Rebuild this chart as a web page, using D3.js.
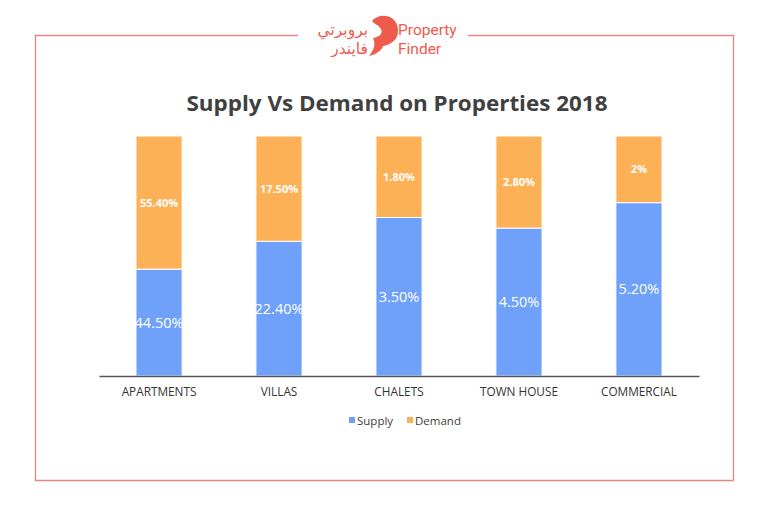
<!DOCTYPE html>
<html>
<head>
<meta charset="utf-8">
<script src="https://cdn.jsdelivr.net/npm/d3@7"></script>
<style>
  body { margin: 0; background: #fff; }
  svg { display: block; }
</style>
</head>
<body>
<div id="chart"></div>
<script>
var categories = ["APARTMENTS", "VILLAS", "CHALETS", "TOWN HOUSE", "COMMERCIAL"];
var supply = [44.5, 22.4, 3.5, 4.5, 5.2];
var demand = [55.4, 17.5, 1.8, 2.8, 2];
var supplyLabels = ["44.50%", "22.40%", "3.50%", "4.50%", "5.20%"];
var demandLabels = ["55.40%", "17.50%", "1.80%", "2.80%", "2%"];
var seriesNames = ["Supply", "Demand"];

var width = 768, height = 515;
var blue = "#6fa1fa", orange = "#fdb156", brand = "#ee5a4c";

var svg = d3.select("#chart").append("svg")
    .attr("width", width).attr("height", height);

// frame with logo gap
var frame = svg.append("g").attr("stroke", "#e8867c").attr("stroke-width", 1.3).attr("fill", "none");
frame.append("path").attr("d", "M298,35.5 H35.5 V480.5 H733.5 V35.5 H468");

// logo
var logo = svg.append("g");
logo.append("path")
    .attr("d", "M372,21 C378,13 396,13 398,29 C399,40 390,45 383,46 C382,50 377,54 369,56 C374,50 376,44 373,38 C380,37 383,33 381,29 C379,25 374,24 372,21 Z")
    .attr("fill", brand);
logo.append("text").attr("x", 398).attr("y", 35)
    .attr("font-family", "Roboto, sans-serif").attr("font-size", 15.5)
    .attr("fill", brand).text("Property");
logo.append("text").attr("x", 398).attr("y", 53.5)
    .attr("font-family", "Roboto, sans-serif").attr("font-size", 15.5)
    .attr("fill", brand).text("Finder");
logo.append("text").attr("x", 368).attr("y", 35).attr("text-anchor", "end")
    .attr("font-family", "DejaVu Sans, sans-serif").attr("font-size", 15.5)
    .attr("fill", brand).text("بروبرتي");
logo.append("text").attr("x", 368).attr("y", 53.5).attr("text-anchor", "end")
    .attr("font-family", "DejaVu Sans, sans-serif").attr("font-size", 15.5)
    .attr("fill", brand).text("فايندر");

// title
svg.append("text")
    .attr("x", 397).attr("y", 111)
    .attr("text-anchor", "middle")
    .attr("font-family", "Open Sans, sans-serif")
    .attr("font-weight", 700).attr("font-size", 22)
    .attr("fill", "#404040")
    .attr("textLength", 421).attr("lengthAdjust", "spacingAndGlyphs")
    .text("Supply Vs Demand on Properties 2018");

var x = d3.scaleBand().domain(categories).range([99, 699]).paddingInner(0.615).paddingOuter(0.308);
var y = d3.scaleLinear().domain([0, 1]).range([376, 136]);

var rows = categories.map(function(c, i) {
    var tot = supply[i] + demand[i];
    return { cat: c, s: supply[i] / tot, d: demand[i] / tot, sl: supplyLabels[i], dl: demandLabels[i] };
});

var g = svg.append("g");
var bar = g.selectAll("g.bar").data(rows).enter().append("g").attr("class", "bar");

bar.append("rect")
    .attr("x", function(d) { return x(d.cat); })
    .attr("width", x.bandwidth())
    .attr("y", function(d) { return y(d.s); })
    .attr("height", function(d) { return y(0) - y(d.s); })
    .attr("fill", blue)
    .attr("stroke", "#fff").attr("stroke-width", 1);

bar.append("rect")
    .attr("x", function(d) { return x(d.cat); })
    .attr("width", x.bandwidth())
    .attr("y", y(1))
    .attr("height", function(d) { return y(d.s) - y(1); })
    .attr("fill", orange)
    .attr("stroke", "#fff").attr("stroke-width", 1);

bar.append("text")
    .attr("x", function(d) { return x(d.cat) + x.bandwidth() / 2; })
    .attr("y", function(d) { return (y(d.s) + y(0)) / 2 + 5; })
    .attr("text-anchor", "middle")
    .attr("font-family", "Open Sans, sans-serif").attr("font-size", 14.5)
    .attr("fill", "#fff")
    .text(function(d) { return d.sl; });

bar.append("text")
    .attr("x", function(d) { return x(d.cat) + x.bandwidth() / 2; })
    .attr("y", function(d) { return (y(1) + y(d.s)) / 2 + 4; })
    .attr("text-anchor", "middle")
    .attr("font-family", "Open Sans, sans-serif").attr("font-weight", 700).attr("font-size", 11)
    .attr("fill", "#fff")
    .text(function(d) { return d.dl; });

// x axis
var xAxis = svg.append("g").attr("transform", "translate(0,376)")
    .call(d3.axisBottom(x).tickSize(0).tickPadding(12));
xAxis.select(".domain").attr("stroke", "#555").attr("stroke-width", 1.5);
xAxis.selectAll("text")
    .attr("font-family", "Open Sans, sans-serif").attr("font-size", 11.8)
    .attr("fill", "#333");

// legend
var legendX = [349, 407];
var legend = svg.append("g").selectAll("g").data(seriesNames).enter().append("g")
    .attr("transform", function(d, i) { return "translate(" + legendX[i] + ",421)"; });
legend.append("rect").attr("x", 0).attr("y", -4).attr("width", 6).attr("height", 6)
    .attr("fill", function(d, i) { return i === 0 ? blue : orange; });
legend.append("text").attr("x", 8).attr("y", 4)
    .attr("font-family", "Open Sans, sans-serif").attr("font-size", 11.5)
    .attr("fill", "#404040")
    .text(function(d) { return d; });
</script>
</body>
</html>
